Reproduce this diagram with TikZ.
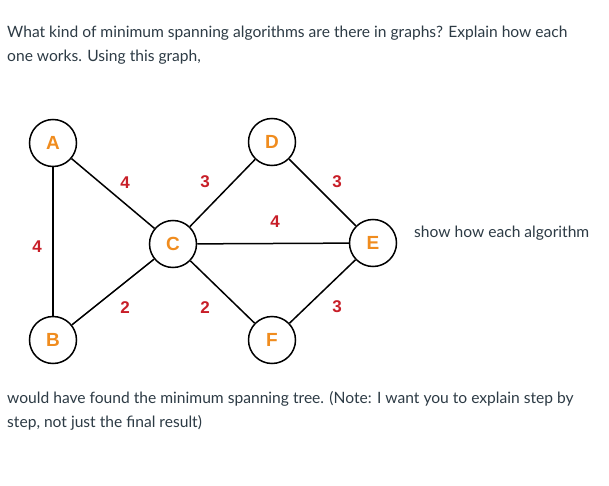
\documentclass[tikz,border=0pt]{standalone}
\usepackage{fontspec}
\setmainfont{Lato}
\newfontfamily\arialf{Liberation Sans}
\definecolor{lbl}{RGB}{240,140,30}
\definecolor{wt}{RGB}{200,30,40}
\definecolor{txt}{RGB}{45,59,69}
\begin{document}
\begin{tikzpicture}[x=1pt,y=-1pt,
  vtx/.style={circle,draw=black,line width=1.5pt,minimum size=47pt,inner sep=0pt,font=\arialf\bfseries\fontsize{19}{19}\selectfont,text=lbl},
  edge/.style={line width=1.5pt},
  wlab/.style={font=\arialf\bfseries\fontsize{17}{17}\selectfont,text=wt},
  para/.style={anchor=base west,inner sep=0pt,font=\fontsize{15.6}{18}\selectfont,text=txt}]
\useasboundingbox[fill=white] (0,0) rectangle (609,486);
\node[para] (t1) at (7,38) {What kind of minimum spanning algorithms are there in graphs? Explain how each};
\node[para] (t2) at (7,62) {one works. Using this graph,};
\node[para] (t3) at (414,237) {show how each algorithm};
\node[para] (t4) at (7,403) {would have found the minimum spanning tree. (Note: I want you to explain step by};
\node[para] (t5) at (7,427) {step, not just the final result)};
\node[vtx] (A) at (53,143) {A};
\node[vtx] (D) at (272,142) {D};
\node[vtx] (C) at (173,244) {C};
\node[vtx] (E) at (373,243) {E};
\node[vtx] (B) at (53,340) {B};
\node[vtx] (F) at (272,340) {F};
\draw[edge] (A) -- (B);
\draw[edge] (A) -- (C);
\draw[edge] (B) -- (C);
\draw[edge] (C) -- (D);
\draw[edge] (C) -- (F);
\draw[edge] (C) -- (E);
\draw[edge] (D) -- (E);
\draw[edge] (F) -- (E);
\node[wlab] (w1) at (125,183) {4};
\node[wlab] (w2) at (205,182) {3};
\node[wlab] (w3) at (337,182) {3};
\node[wlab] (w4) at (275,222) {4};
\node[wlab] (w5) at (37,247) {4};
\node[wlab] (w6) at (125,308) {2};
\node[wlab] (w7) at (205,308) {2};
\node[wlab] (w8) at (337,307) {3};
\end{tikzpicture}
\end{document}
